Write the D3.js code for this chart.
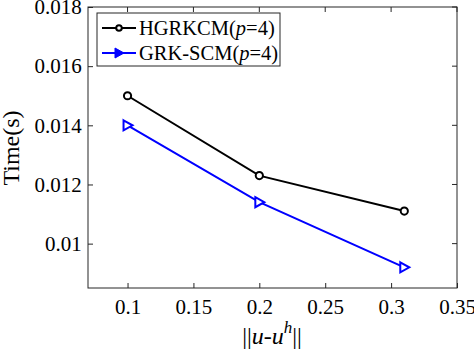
<!DOCTYPE html>
<html><head><meta charset="utf-8">
<script src="https://cdn.jsdelivr.net/npm/d3@7"></script>
<style>body{margin:0;background:#fff}svg{display:block}text{font-family:"Liberation Serif",serif}</style>
</head><body>
<script>
const xVals = [0.1, 0.2, 0.31];
const hgrkcm = [0.015, 0.0123, 0.0111];
const grkscm = [0.014, 0.0114, 0.0092];
const xTicks = [0.1, 0.15, 0.2, 0.25, 0.3, 0.35];
const yTicks = [0.01, 0.012, 0.014, 0.016, 0.018];
const seriesNames = ["HGRKCM", "GRK-SCM"];

const W = 474, H = 355;
const L = 88, R = 457, T = 7, B = 288;
const font = "Liberation Serif";
const ax = "#262626";

const svg = d3.select("body").append("svg").attr("width", W).attr("height", H);
const x = d3.scaleLinear().domain([0.07, 0.35]).range([L, R]);
const y = d3.scaleLinear().domain([0.0085, 0.018]).range([B, T]);

svg.append("rect").attr("x", L).attr("y", T).attr("width", R - L).attr("height", B - T)
  .attr("fill", "none").attr("stroke", ax).attr("stroke-width", 1);

const tl = 5;
const xa = d3.axisBottom(x).tickValues(xTicks).tickSize(-tl).tickFormat(d => String(d));
const ya = d3.axisLeft(y).tickValues(yTicks).tickSize(-tl).tickFormat(d => String(+d.toFixed(3)));
const gx = svg.append("g").attr("transform", `translate(0,${B})`).call(xa);
const gy = svg.append("g").attr("transform", `translate(${L},0)`).call(ya);
[gx, gy].forEach(a => {
  a.attr("font-family", font).attr("font-size", 21);
  a.select(".domain").remove();
  a.selectAll("line").attr("stroke", ax);
  a.selectAll("text").attr("fill", "#000");
});
gx.selectAll("text").attr("dy", "1.1em");
gy.selectAll("text").attr("dx", "-0.15em");
svg.append("g").selectAll("line").data(xTicks).join("line")
  .attr("x1", d => x(d)).attr("x2", d => x(d)).attr("y1", T).attr("y2", T + tl).attr("stroke", ax);
svg.append("g").selectAll("line").data(yTicks).join("line")
  .attr("x1", R).attr("x2", R - tl).attr("y1", d => y(d)).attr("y2", d => y(d)).attr("stroke", ax);

const line = d3.line().x((d, i) => x(xVals[i])).y(d => y(d));
svg.append("path").datum(hgrkcm).attr("d", line).attr("fill", "none").attr("stroke", "#000").attr("stroke-width", 2);
svg.append("path").datum(grkscm).attr("d", line).attr("fill", "none").attr("stroke", "#0000ff").attr("stroke-width", 2);

svg.append("g").selectAll("circle").data(hgrkcm).join("circle")
  .attr("cx", (d, i) => x(xVals[i])).attr("cy", d => y(d)).attr("r", 3.6)
  .attr("fill", "#fff").attr("stroke", "#000").attr("stroke-width", 2);
const tri = s => `M${-s * 0.8},${-s} L${s},0 L${-s * 0.8},${s} Z`;
svg.append("g").selectAll("path").data(grkscm).join("path")
  .attr("transform", (d, i) => `translate(${x(xVals[i])},${y(d)})`).attr("d", tri(5))
  .attr("fill", "#fff").attr("stroke", "#0000ff").attr("stroke-width", 2);

const lg = svg.append("g").attr("font-family", font).attr("font-size", 20.5);
lg.append("rect").attr("x", 97).attr("y", 13).attr("width", 183).attr("height", 53)
  .attr("fill", "#fff").attr("stroke", ax).attr("stroke-width", 1);
const rows = [
  {name: seriesNames[0], color: "#000", y: 28, mk: "c"},
  {name: seriesNames[1], color: "#0000ff", y: 53, mk: "t"}
];
rows.forEach(r => {
  lg.append("line").attr("x1", 102).attr("x2", 136).attr("y1", r.y).attr("y2", r.y)
    .attr("stroke", r.color).attr("stroke-width", 2);
  if (r.mk === "c") lg.append("circle").attr("cx", 119).attr("cy", r.y).attr("r", 2.8)
    .attr("fill", "#fff").attr("stroke", r.color).attr("stroke-width", 2);
  else lg.append("path").attr("transform", `translate(119,${r.y})`).attr("d", tri(5))
    .attr("fill", r.color).attr("stroke", r.color).attr("stroke-width", 1);
  const t = lg.append("text").attr("x", 139).attr("y", r.y).attr("dy", "0.35em").attr("fill", "#000");
  t.append("tspan").text(r.name + "(");
  t.append("tspan").attr("font-style", "italic").text("p");
  t.append("tspan").text("=4)");
});

const xl = svg.append("text").attr("x", 272).attr("y", 344).attr("text-anchor", "middle")
  .attr("font-family", font).attr("font-size", 24).attr("fill", "#000");
xl.append("tspan").text("||");
xl.append("tspan").attr("font-style", "italic").text("u");
xl.append("tspan").text("-");
xl.append("tspan").attr("font-style", "italic").text("u");
xl.append("tspan").attr("font-style", "italic").attr("font-size", 17).attr("dy", -11).text("h");
xl.append("tspan").attr("dy", 11).text("||");

svg.append("text").attr("transform", `translate(19,${148}) rotate(-90)`)
  .attr("text-anchor", "middle").attr("font-family", font).attr("font-size", 24)
  .attr("fill", "#000").text("Time(s)");
</script>
</body></html>
